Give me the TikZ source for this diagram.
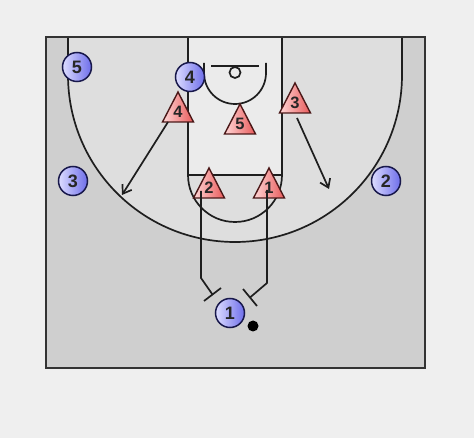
\documentclass[tikz,border=0pt]{standalone}
\usepackage{fontspec}
\setmainfont{Liberation Sans}
\usetikzlibrary{arrows.meta}
\definecolor{bgc}{HTML}{EFEFEF}
\definecolor{outc}{HTML}{CFCFCF}
\definecolor{arcc}{HTML}{DEDEDE}
\definecolor{lanec}{HTML}{EBEBEB}
\definecolor{linec}{HTML}{1E1E1E}
\definecolor{blueL}{HTML}{DCDCFF}
\definecolor{blueD}{HTML}{6E6EEA}
\definecolor{redL}{HTML}{FFD6D6}
\definecolor{redD}{HTML}{E85A5A}
\tikzset{
  courtline/.style={draw=linec, line width=1.7pt},
  player/.style={circle, draw=linec!80!blue, line width=1.5pt, minimum size=29pt, inner sep=0pt,
    left color=blueL, right color=blueD, font=\fontsize{18}{18}\selectfont\bfseries, text=black!85},
  tri/.style={draw=linec!80!red, line width=1.4pt, left color=redL, right color=redD},
  deflabel/.style={inner sep=0pt, font=\fontsize{16.5}{16.5}\selectfont\bfseries, text=black!85},
  cut/.style={draw=linec, line width=1.7pt, -{Straight Barb[length=8pt,width=11pt,line width=1.7pt]}},
  screen/.style={draw=linec, line width=1.7pt},
  ballst/.style={circle, fill=black, minimum size=11pt, inner sep=0pt},
}
\newcommand\defender[4]{%
  \path[tri] (#2,#3) -- ++(15.5,30) -- ++(-31,0) -- cycle;
  \node[deflabel] (#1) at (#2,#3+20) {#4};}
\begin{document}
\begin{tikzpicture}[x=1pt,y=1pt,yscale=-1]
\useasboundingbox (0,0) rectangle (474,438);
\fill[bgc] (0,0) rectangle (474,438);
% court
\fill[outc] (46,37) rectangle (425,368);
\fill[arcc] (68,37) -- (68,75) arc[start angle=180, end angle=0, radius=167] -- (402,37) -- cycle;
\fill[lanec] (188,37) rectangle (282,175);
\draw[courtline] (68,37) -- (68,75) arc[start angle=180, end angle=0, radius=167] -- (402,37);
\draw[courtline] (188,37) -- (188,175) -- (282,175) -- (282,37);
\draw[courtline] (188,175) arc[start angle=180, end angle=0, radius=47];
\draw[courtline] (211,66) -- (259,66);
\draw[courtline] (235,72.5) circle[radius=5.5];
\draw[courtline] (204,63) -- (204,73) arc[start angle=180, end angle=0, radius=31] -- (266,63);
\draw[draw=black!80, line width=2pt] (46,37) rectangle (425,368);
% defenders
\defender{d4}{178}{92}{4}
\defender{d5}{240}{104}{5}
\defender{d3}{295}{83}{3}
\defender{d2}{209}{168}{2}
\defender{d1}{269}{168}{1}
% offense
\node[player] (o5) at (77,67) {5};
\node[player] (o4) at (190,77) {4};
\node[player] (o3) at (73,181) {3};
\node[player] (o2) at (386,181) {2};
\node[player] (o1) at (230,313) {1};
\node[ballst] (ball) at (253,326) {};
% cuts
\coordinate (c4s) at (168,122);
\coordinate (c4e) at (122,195);
\coordinate (c3s) at (297,118);
\coordinate (c3e) at (329,189);
\draw[cut] (c4s) -- (c4e);
\draw[cut] (c3s) -- (c3e);
% screens
\coordinate (s2a) at (201,191);
\coordinate (s2b) at (201,278);
\coordinate (s2c) at (212.5,294.5);
\coordinate (s2l) at (204,301);
\coordinate (s2r) at (221,288);
\draw[screen] (s2a) -- (s2b) -- (s2c);
\draw[screen] (s2l) -- (s2r);
\coordinate (s1a) at (267,190);
\coordinate (s1b) at (267,283);
\coordinate (s1c) at (250,297.5);
\coordinate (s1l) at (243,289);
\coordinate (s1r) at (257,306);
\draw[screen] (s1a) -- (s1b) -- (s1c);
\draw[screen] (s1l) -- (s1r);
\end{tikzpicture}
\end{document}
